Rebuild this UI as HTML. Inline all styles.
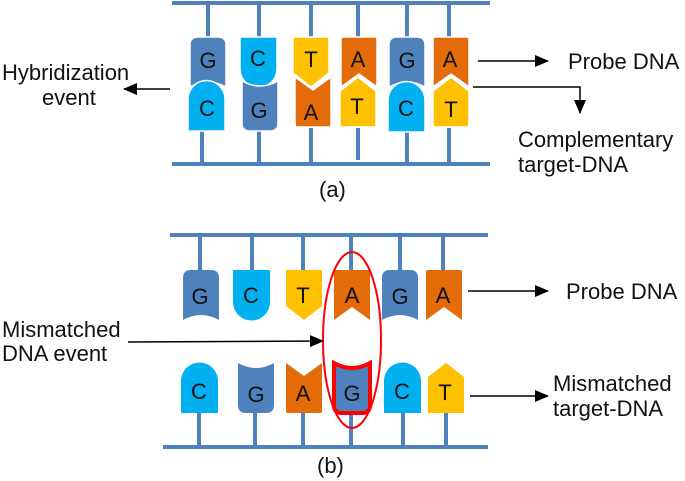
<!DOCTYPE html>
<html><head><meta charset="utf-8"><style>
html,body{margin:0;padding:0;background:#fff;}
svg{display:block;}
text{font-family:"Liberation Sans",Arial,sans-serif;}
</style></head><body>
<svg width="685" height="481" viewBox="0 0 685 481" xmlns="http://www.w3.org/2000/svg">
<defs>
<path id="G" d="M0,8 Q0,0 8,0 H28 Q36,0 36,8 V50 Q18,40 0,50 Z" fill="#4f81bd"/>
<path id="C" d="M0,0 H37 V32 A18.5,18.5 0 0 1 0,32 Z" fill="#00b0f0"/>
<path id="T" d="M0,0 H36 V36 L18,50 L0,36 Z" fill="#ffc000"/>
<path id="A" d="M0,2 Q0,0 2,0 H34 Q36,0 36,2 V50 L18,37 L0,50 Z" fill="#e36c09"/>
<marker id="ar" markerWidth="14" markerHeight="12" refX="13" refY="6" orient="auto" markerUnits="userSpaceOnUse"><path d="M0,0 L14,6 L0,12 Z" fill="#000"/></marker>
</defs>
<g stroke="#4f81bd" stroke-width="4">
<line x1="172" y1="3" x2="490" y2="3"/>
<line x1="172" y1="164" x2="490" y2="164"/>
<line x1="208" y1="3" x2="208" y2="40"/><line x1="259" y1="3" x2="259" y2="40"/><line x1="311" y1="3" x2="311" y2="40"/><line x1="358" y1="3" x2="358" y2="40"/><line x1="407" y1="3" x2="407" y2="40"/><line x1="449" y1="3" x2="449" y2="40"/>
<line x1="202" y1="128" x2="202" y2="164"/><line x1="259" y1="128" x2="259" y2="164"/><line x1="311" y1="128" x2="311" y2="164"/><line x1="358" y1="128" x2="358" y2="160"/><line x1="407" y1="128" x2="407" y2="164"/><line x1="449" y1="128" x2="449" y2="164"/>
</g>
<g stroke="#fff" stroke-width="1.5">
<use href="#G" x="190" y="37"/>
<use href="#C" x="240" y="37"/>
<use href="#T" x="293" y="37"/>
<use href="#A" x="341" y="37"/>
<use href="#G" x="389" y="37"/>
<use href="#A" x="433" y="37"/>
<g transform="translate(188,131) scale(1,-1)"><use href="#C"/></g>
<g transform="translate(242,131) scale(1,-1)"><use href="#G"/></g>
<g transform="translate(295,127) scale(1,-1)"><use href="#A"/></g>
<g transform="translate(340,127) scale(1,-1)"><use href="#T"/></g>
<g transform="translate(388,132) scale(1,-1)"><use href="#C"/></g>
<g transform="translate(433,127) scale(1,-1)"><use href="#T"/></g>
</g>
<g font-size="22" text-anchor="middle" fill="#111">
<text x="208" y="68">G</text><text x="258" y="66">C</text><text x="311" y="67">T</text><text x="358" y="67">A</text><text x="407" y="68">G</text><text x="450" y="67">A</text>
<text x="207" y="116">C</text><text x="259" y="118">G</text><text x="311" y="120">A</text><text x="357" y="114">T</text><text x="406" y="116">C</text><text x="451" y="117">T</text>
</g>
<g stroke="#000" stroke-width="1.5" fill="none">
<line x1="170" y1="89" x2="124" y2="89" marker-end="url(#ar)"/>
<line x1="478" y1="61" x2="548" y2="61" marker-end="url(#ar)"/>
<polyline points="473,87 580,87 580,113" marker-end="url(#ar)"/>
</g>
<g font-size="22" fill="#111">
<text x="2" y="80">Hybridization</text><text x="42" y="105">event</text>
<text x="568" y="69">Probe DNA</text>
<text x="518" y="147">Complementary</text><text x="518" y="172">target-DNA</text>
<text x="319" y="197">(a)</text>
</g>
<g stroke="#4f81bd" stroke-width="4">
<line x1="170" y1="235" x2="488" y2="235"/>
<line x1="163" y1="447" x2="488" y2="447"/>
<line x1="200" y1="235" x2="200" y2="272"/><line x1="252" y1="235" x2="252" y2="272"/><line x1="303" y1="235" x2="303" y2="272"/><line x1="351" y1="235" x2="351" y2="272"/><line x1="400" y1="235" x2="400" y2="272"/><line x1="443" y1="235" x2="443" y2="272"/>
<line x1="199" y1="410" x2="199" y2="447"/><line x1="255" y1="410" x2="255" y2="447"/><line x1="303" y1="410" x2="303" y2="447"/><line x1="351" y1="410" x2="351" y2="447"/><line x1="403" y1="410" x2="403" y2="447"/><line x1="446" y1="410" x2="446" y2="447"/>
</g>
<use href="#G" x="183" y="270"/>
<use href="#C" x="233" y="270"/>
<use href="#T" x="286" y="270"/>
<use href="#A" x="334" y="270"/>
<use href="#G" x="382" y="270"/>
<use href="#A" x="426" y="270"/>
<g transform="translate(181,413) scale(1,-1)"><use href="#C"/></g>
<g transform="translate(238,413) scale(1,-1)"><use href="#G"/></g>
<g transform="translate(286,413) scale(1,-1)"><use href="#A"/></g>
<g transform="translate(334,413) scale(1,-1)"><use href="#G" stroke="#f00" stroke-width="4"/></g>
<g transform="translate(384,413) scale(1,-1)"><use href="#C"/></g>
<g transform="translate(428,413) scale(1,-1)"><use href="#T"/></g>
<ellipse cx="352" cy="340" rx="29" ry="88" fill="none" stroke="#f00" stroke-width="2"/>
<g font-size="22" text-anchor="middle" fill="#111">
<text x="200" y="304">G</text><text x="251" y="303">C</text><text x="303" y="303">T</text><text x="352" y="303">A</text><text x="400" y="304">G</text><text x="443" y="303">A</text>
<text x="199" y="399">C</text><text x="256" y="402">G</text><text x="303" y="401">A</text><text x="352" y="401">G</text><text x="402" y="399">C</text><text x="445" y="400">T</text>
</g>
<g stroke="#000" stroke-width="1.5" fill="none">
<line x1="468" y1="291" x2="548" y2="291" marker-end="url(#ar)"/>
<line x1="128" y1="342" x2="323" y2="341" marker-end="url(#ar)"/>
<line x1="470" y1="396" x2="548" y2="396" marker-end="url(#ar)"/>
</g>
<g font-size="22" fill="#111">
<text x="566" y="299">Probe DNA</text>
<text x="2" y="337">Mismatched</text><text x="2" y="361">DNA event</text>
<text x="553" y="391">Mismatched</text><text x="553" y="416">target-DNA</text>
<text x="317" y="473">(b)</text>
</g>
</svg>
</body></html>
